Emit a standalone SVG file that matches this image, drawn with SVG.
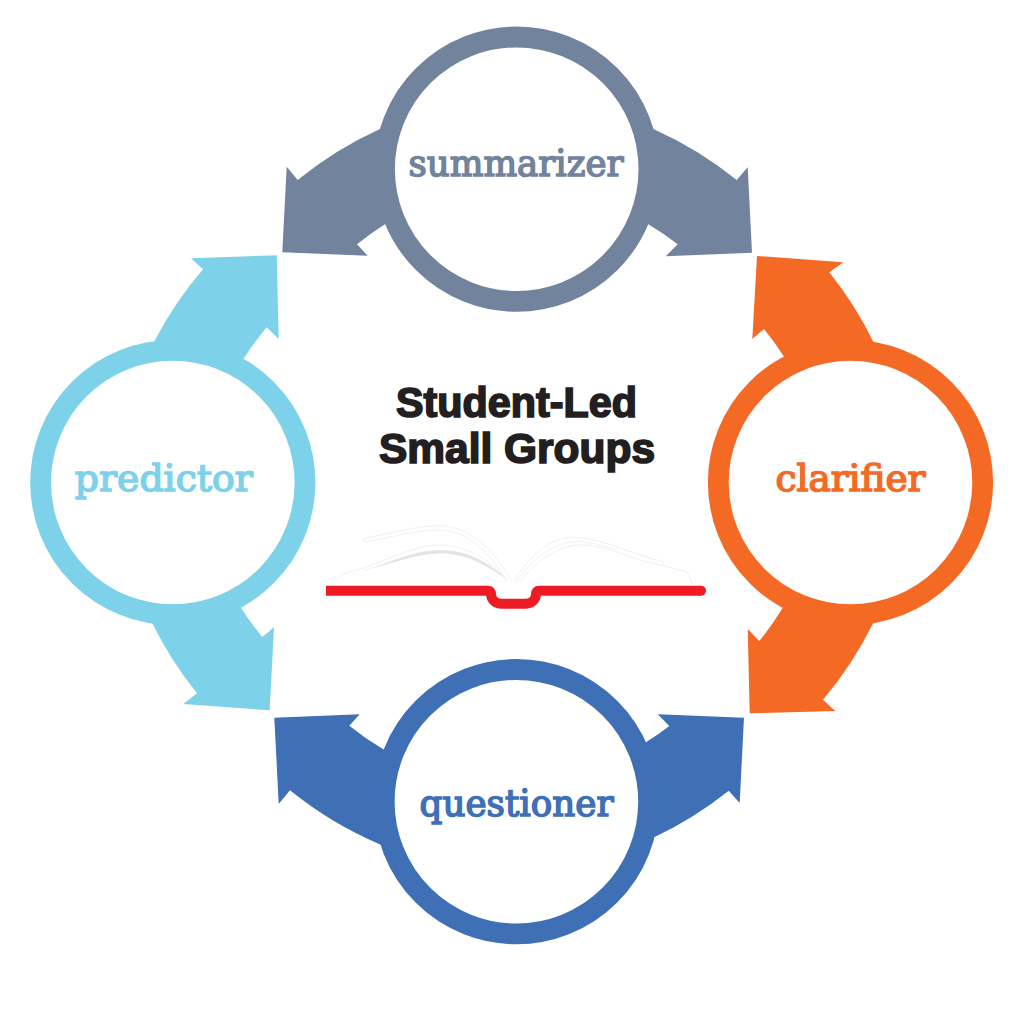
<svg xmlns="http://www.w3.org/2000/svg" width="1024" height="1024" viewBox="0 0 1024 1024">
<style>
.ring{fill:#fff;stroke-width:20.8}
.lbl{font-family:"DejaVu Serif","Liberation Serif",serif;font-size:37px;stroke-width:1.6px}
.ttl{font-family:"Liberation Sans",Arial,sans-serif;font-weight:700;font-size:42px;fill:#231f20;stroke:#231f20;stroke-width:1.7px}
.slate{fill:#72839d}.orange{fill:#f46a25}.blue{fill:#3f70b6}.sky{fill:#7dd2ea}
.page{fill:none;stroke:#ececec;stroke-width:.8}
</style>
<rect width="1024" height="1024" fill="#fff"/>
<g id="connectors">
<path class="slate" d="M380 129A375 375 0 0 0 297.7 180L286.7 166.7L282.3 252.3L367.7 255.7L357 244.3A285 285 0 0 1 385 224.3L420 170Z"/>
<path class="slate" d="M653.3 129A375 375 0 0 1 736.7 180L747.7 167.3L752 252.7L665.7 256.3L677.7 244.3A285 285 0 0 0 648.3 224.3L610 170Z"/>
<path class="orange" d="M873.3 341.7A375 375 0 0 0 829.3 272.3L843.3 262.3L757 256L752.3 339L764 329A285 285 0 0 1 783.7 356.3L850 420Z"/>
<path class="orange" d="M873.3 622.7A375 375 0 0 1 823 699.7L835.3 711L749.7 713.3L747.7 629L759.3 641A285 285 0 0 0 782.7 607.7L850 540Z"/>
<path class="blue" d="M380.7 844.7A375 375 0 0 1 290 790.3L278.7 804L274.3 717.7L359.7 714.3L349.3 725.7A285 285 0 0 0 384 749.7L450 800Z"/>
<path class="blue" d="M654.7 837A375 375 0 0 0 728.7 790.7L739.7 803L744 717.7L657.7 714.3L669.3 726A285 285 0 0 1 646 742.3L580 800Z"/>
<path class="sky" d="M154.7 340.7A375 375 0 0 1 203 269.3L191 258.3L276.7 255.3L278.7 339L266.7 327.3A285 285 0 0 0 244 358.3L172 420Z"/>
<path class="sky" d="M152.3 623.3A375 375 0 0 0 197 693.3L183.3 704L269.7 710.3L274 627.3L262.3 637A285 285 0 0 1 241 607.7L172 540Z"/>
</g>
<g id="summarizer">
<circle class="ring" cx="516.7" cy="169.2" r="132.2" stroke="#72839d"/>
<text class="lbl" x="408.5" y="176.2" textLength="215" lengthAdjust="spacingAndGlyphs" fill="#72839d" stroke="#72839d">summarizer</text>
</g>
<g id="clarifier">
<circle class="ring" cx="850.5" cy="482.5" r="132.2" stroke="#f46a25"/>
<text class="lbl" x="775.5" y="491.2" textLength="150" lengthAdjust="spacingAndGlyphs" fill="#f46a25" stroke="#f46a25">clarifier</text>
</g>
<g id="questioner">
<circle class="ring" cx="516.4" cy="801.7" r="132.2" stroke="#3f70b6"/>
<text class="lbl" x="419.5" y="816.2" textLength="194" lengthAdjust="spacingAndGlyphs" fill="#3f70b6" stroke="#3f70b6">questioner</text>
</g>
<g id="predictor">
<circle class="ring" cx="172.8" cy="482.5" r="132.2" stroke="#7dd2ea"/>
<text class="lbl" x="74.8" y="491.2" textLength="178" lengthAdjust="spacingAndGlyphs" fill="#7dd2ea" stroke="#7dd2ea">predictor</text>
</g>
<g id="title">
<text class="ttl" x="396" y="416.7" textLength="241" lengthAdjust="spacingAndGlyphs">Student-Led</text>
<text class="ttl" x="379" y="462.7" textLength="276" lengthAdjust="spacingAndGlyphs">Small Groups</text>
</g>
<g id="book">
<path d="M360 571.7C385 565 412 550 440 550C470 550 492 565 506.7 579.3C490 568 468 553 440 553.5C412 554 385 566 360 571.7Z" fill="#e4e4e4"/>
<path class="page" d="M365 538C390 534 415 525.7 440 525.7C475 526 500 560 511.7 581.7"/>
<path class="page" d="M365 541.7C390 538 415 530 440 530C470 530 495 560 507 581.7"/>
<path class="page" d="M365 538Q362 540 365 541.7"/>
<path class="page" d="M330 585L343 574C380 565 410 545 440 545C470 545 495 565 506.7 580"/>
<path class="page" d="M513.3 581.7C530 555 550 537.3 573.3 537.3C600 537.3 635 555 663.3 561.7Q665 564 662 566"/>
<path class="page" d="M516 581.7C533 558 555 541.7 576.7 541.7C590 541.7 605 546 616.7 550"/>
<path class="page" d="M520 581.7C535 562 558 545 580 545C600 545 620 553 640 560L686.7 571.7L693 585"/>
<path d="M326 590.7H488Q491 590.7 491 594C491 600 496 603.7 502 603.7H525C531 603.7 536 600 536 594Q536 590.7 539 590.7H701" fill="none" stroke="#ed1c24" stroke-width="10"/>
<circle cx="701" cy="590.7" r="5" fill="#ed1c24"/>
</g>
</svg>
